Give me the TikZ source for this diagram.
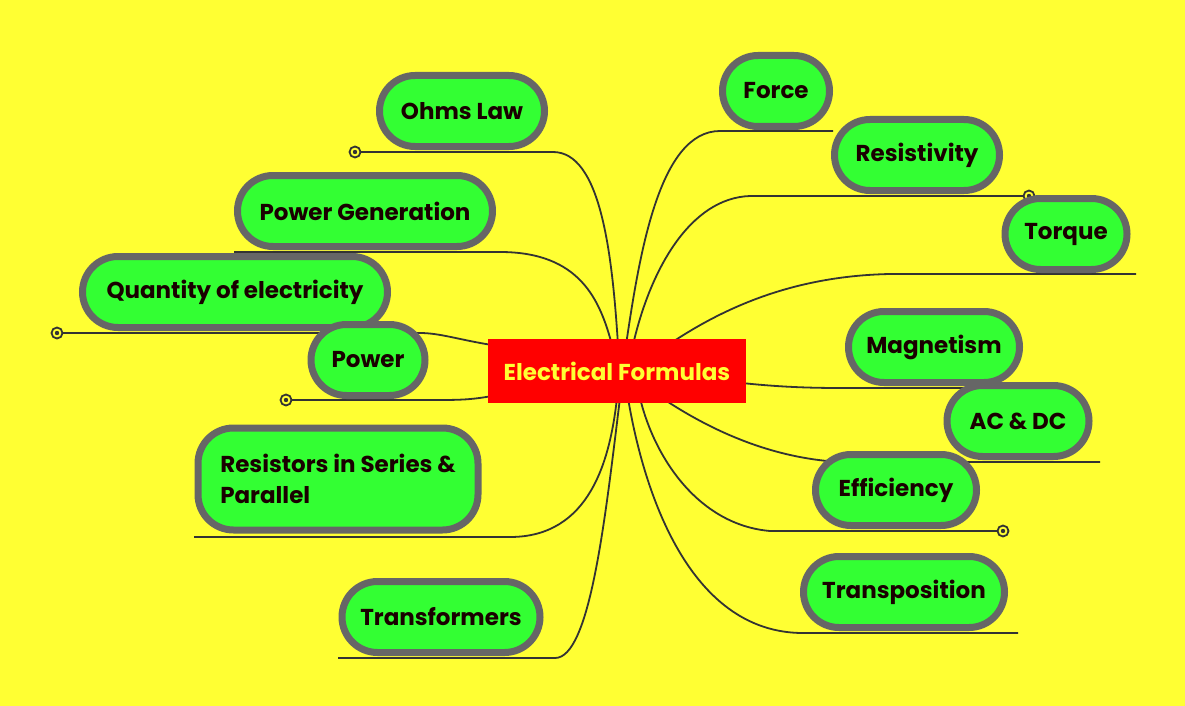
\documentclass[tikz,border=0pt]{standalone}
\usepackage{fontspec}
\setmainfont{Poppins}
\definecolor{bgy}{HTML}{FFFF33}
\definecolor{leaf}{HTML}{33FF33}
\definecolor{rim}{HTML}{666666}
\definecolor{ink}{HTML}{1A0000}
\definecolor{wire}{HTML}{333333}
\definecolor{cred}{HTML}{FF0000}
\definecolor{ctext}{HTML}{FFFF33}
\tikzset{
  leafbox/.style={draw=rim, line width=7pt, fill=leaf, rounded corners=35.5pt,
    minimum height=71pt, text=ink, font=\fontsize{23}{31}\selectfont\bfseries, inner sep=0pt},
  centerbox/.style={fill=cred, minimum width=258pt, minimum height=64pt, inner sep=0pt,
    text=ctext, font=\fontsize{23}{25}\selectfont\bfseries},
  conn/.style={draw=wire, line width=1.8pt},
  knob/.style={circle, draw=wire, line width=1.8pt, fill=bgy, minimum size=11pt, inner sep=0pt,
    path picture={\fill[wire] (path picture bounding box.center) circle (2.2pt);}}
}
\begin{document}
\begin{tikzpicture}[x=1pt,y=-1pt]
\fill[bgy] (0,0) rectangle (1185,706);
\useasboundingbox (0,0) rectangle (1185,706);
% junction points behind the central node
\coordinate (j1) at (618,345);
\coordinate (j2) at (612,345);
\coordinate (j3) at (492,345);
\coordinate (j4) at (492,396);
\coordinate (j5) at (617,398);
\coordinate (j6) at (620,398);
\coordinate (j7) at (626,345);
\coordinate (j8) at (633,345);
\coordinate (j9) at (668,345);
\coordinate (j10) at (742,383);
\coordinate (j11) at (662,398);
\coordinate (j12) at (640,398);
\coordinate (j13) at (628,398);
% underline ends
\coordinate (a1) at (553,152); \coordinate (b1) at (360,152);
\coordinate (a2) at (500,252); \coordinate (b2) at (234,252);
\coordinate (a3) at (420,333); \coordinate (b3) at (62,333);
\coordinate (a4) at (440,400); \coordinate (b4) at (291,400);
\coordinate (a5) at (510,537); \coordinate (b5) at (194,537);
\coordinate (a6) at (555,658); \coordinate (b6) at (338,658);
\coordinate (a7) at (720,131); \coordinate (b7) at (833,131);
\coordinate (a8) at (750,196); \coordinate (b8) at (1024,196);
\coordinate (a9) at (890,274); \coordinate (b9) at (1136,274);
\coordinate (a10) at (840,388); \coordinate (b10) at (1023,388);
\coordinate (a11) at (840,462); \coordinate (b11) at (1100,462);
\coordinate (a12) at (770,531); \coordinate (b12) at (998,531);
\coordinate (a13) at (800,633); \coordinate (b13) at (1018,633);
% connectors
\draw[conn] (j1) .. controls (612,250) and (600,152) .. (a1) -- (b1);
\draw[conn] (j2) .. controls (600,300) and (580,252) .. (a2) -- (b2);
\draw[conn] (j3) .. controls (460,340) and (440,333) .. (a3) -- (b3);
\draw[conn] (j4) .. controls (475,399) and (465,400) .. (a4) -- (b4);
\draw[conn] (j5) .. controls (610,460) and (590,537) .. (a5) -- (b5);
\draw[conn] (j6) .. controls (605,520) and (590,658) .. (a6) -- (b6);
\draw[conn] (j7) .. controls (640,250) and (660,131) .. (a7) -- (b7);
\draw[conn] (j8) .. controls (650,270) and (690,198) .. (a8) -- (b8);
\draw[conn] (j9) .. controls (720,310) and (790,276) .. (a9) -- (b9);
\draw[conn] (j10) .. controls (770,386) and (800,388) .. (a10) -- (b10);
\draw[conn] (j11) .. controls (710,430) and (770,458) .. (a11) -- (b11);
\draw[conn] (j12) .. controls (655,460) and (700,525) .. (a12) -- (b12);
\draw[conn] (j13) .. controls (640,470) and (680,630) .. (a13) -- (b13);
% collapse knobs
\node[knob] (k1) at (355,152) {};
\node[knob] (k3) at (57,333) {};
\node[knob] (k4) at (286,400) {};
\node[knob] (k8) at (1029,196) {};
\node[knob] (k12) at (1003,531) {};
% central node
\node[centerbox] (ctr) at (617,371) {Electrical Formulas};
% leaves
\node[leafbox, minimum width=165pt] (ohms) at (462,111) {Ohms Law};
\node[leafbox, minimum width=255pt] (pgen) at (365,211) {Power Generation};
\node[leafbox, minimum width=305pt] (qty) at (235,292) {Quantity of electricity};
\node[leafbox, minimum width=114pt] (pow) at (368,360) {Power};
\node[leafbox, minimum width=280pt, minimum height=102pt, align=left] (res) at (338,479) {Resistors in Series \&\\Parallel};
\node[leafbox, minimum width=198pt] (trans) at (441,617) {Transformers};
\node[leafbox, minimum width=107pt] (force) at (776,91) {Force};
\node[leafbox, minimum width=165pt] (resist) at (917,155) {Resistivity};
\node[leafbox, minimum width=122pt] (torque) at (1066,234) {Torque};
\node[leafbox, minimum width=171pt] (mag) at (934,347) {Magnetism};
\node[leafbox, minimum width=142pt] (acdc) at (1018,421) {AC \& DC};
\node[leafbox, minimum width=161pt] (eff) at (896,490) {Efficiency};
\node[leafbox, minimum width=201pt] (transp) at (904,592) {Transposition};
\end{tikzpicture}
\end{document}
